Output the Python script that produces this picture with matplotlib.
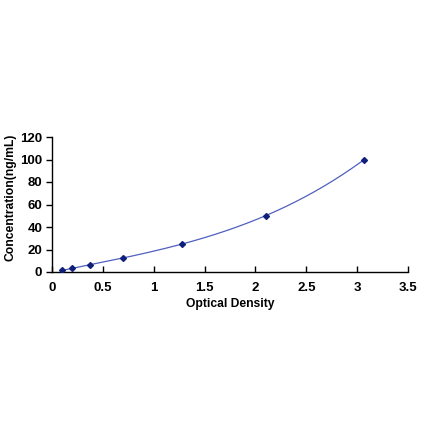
import numpy as np
import matplotlib
matplotlib.use("Agg")
import matplotlib.pyplot as plt

# standard curve data
od = [0.10, 0.20, 0.37, 0.70, 1.28, 2.10, 3.07]
conc = [1.56, 3.12, 6.25, 12.5, 25, 50, 100]

x_ticks = [0, 0.5, 1, 1.5, 2, 2.5, 3, 3.5]
x_tick_labels = ["0", "0.5", "1", "1.5", "2", "2.5", "3", "3.5"]
y_ticks = [0, 20, 40, 60, 80, 100, 120]

plt.rcParams["font.family"] = ["Liberation Sans", "DejaVu Sans"]
plt.rcParams["font.weight"] = "bold"

fig = plt.figure(figsize=(4.4, 4.41), dpi=100)
ax = fig.add_axes([52 / 440, 169 / 441, 356 / 440, 135 / 441])

# fitted curve (cubic fit of the standards)
coef = np.polyfit(od, conc, 3)
xs = np.linspace(min(od), max(od), 200)
ax.plot(xs, np.polyval(coef, xs), color="#5060C0", linewidth=0.9, zorder=2)
ax.plot(od, conc, linestyle="none", marker="D", markersize=3,
        color="#10207A", zorder=3)

ax.set_xlim(0, 3.5)
ax.set_ylim(0, 120)
ax.set_xticks(x_ticks)
ax.set_xticklabels(x_tick_labels)
ax.set_yticks(y_ticks)
ax.tick_params(axis="x", direction="in", length=4, width=1, labelsize=9.5, pad=7)
ax.tick_params(axis="y", direction="out", length=4, width=1, labelsize=9.5, pad=3)
for lab in ax.get_xticklabels() + ax.get_yticklabels():
    lab.set_fontweight("bold")

ax.spines["top"].set_visible(False)
ax.spines["right"].set_visible(False)
ax.spines["left"].set_linewidth(1)
ax.spines["bottom"].set_linewidth(1)

ax.set_xlabel("Optical Density", fontsize=8.7, fontweight="bold", labelpad=3)
ax.set_ylabel("Concentration(ng/mL)", fontsize=8.7, fontweight="bold")
ax.yaxis.set_label_coords(-0.1, 0.55)

fig.savefig("out.png", dpi=100)
